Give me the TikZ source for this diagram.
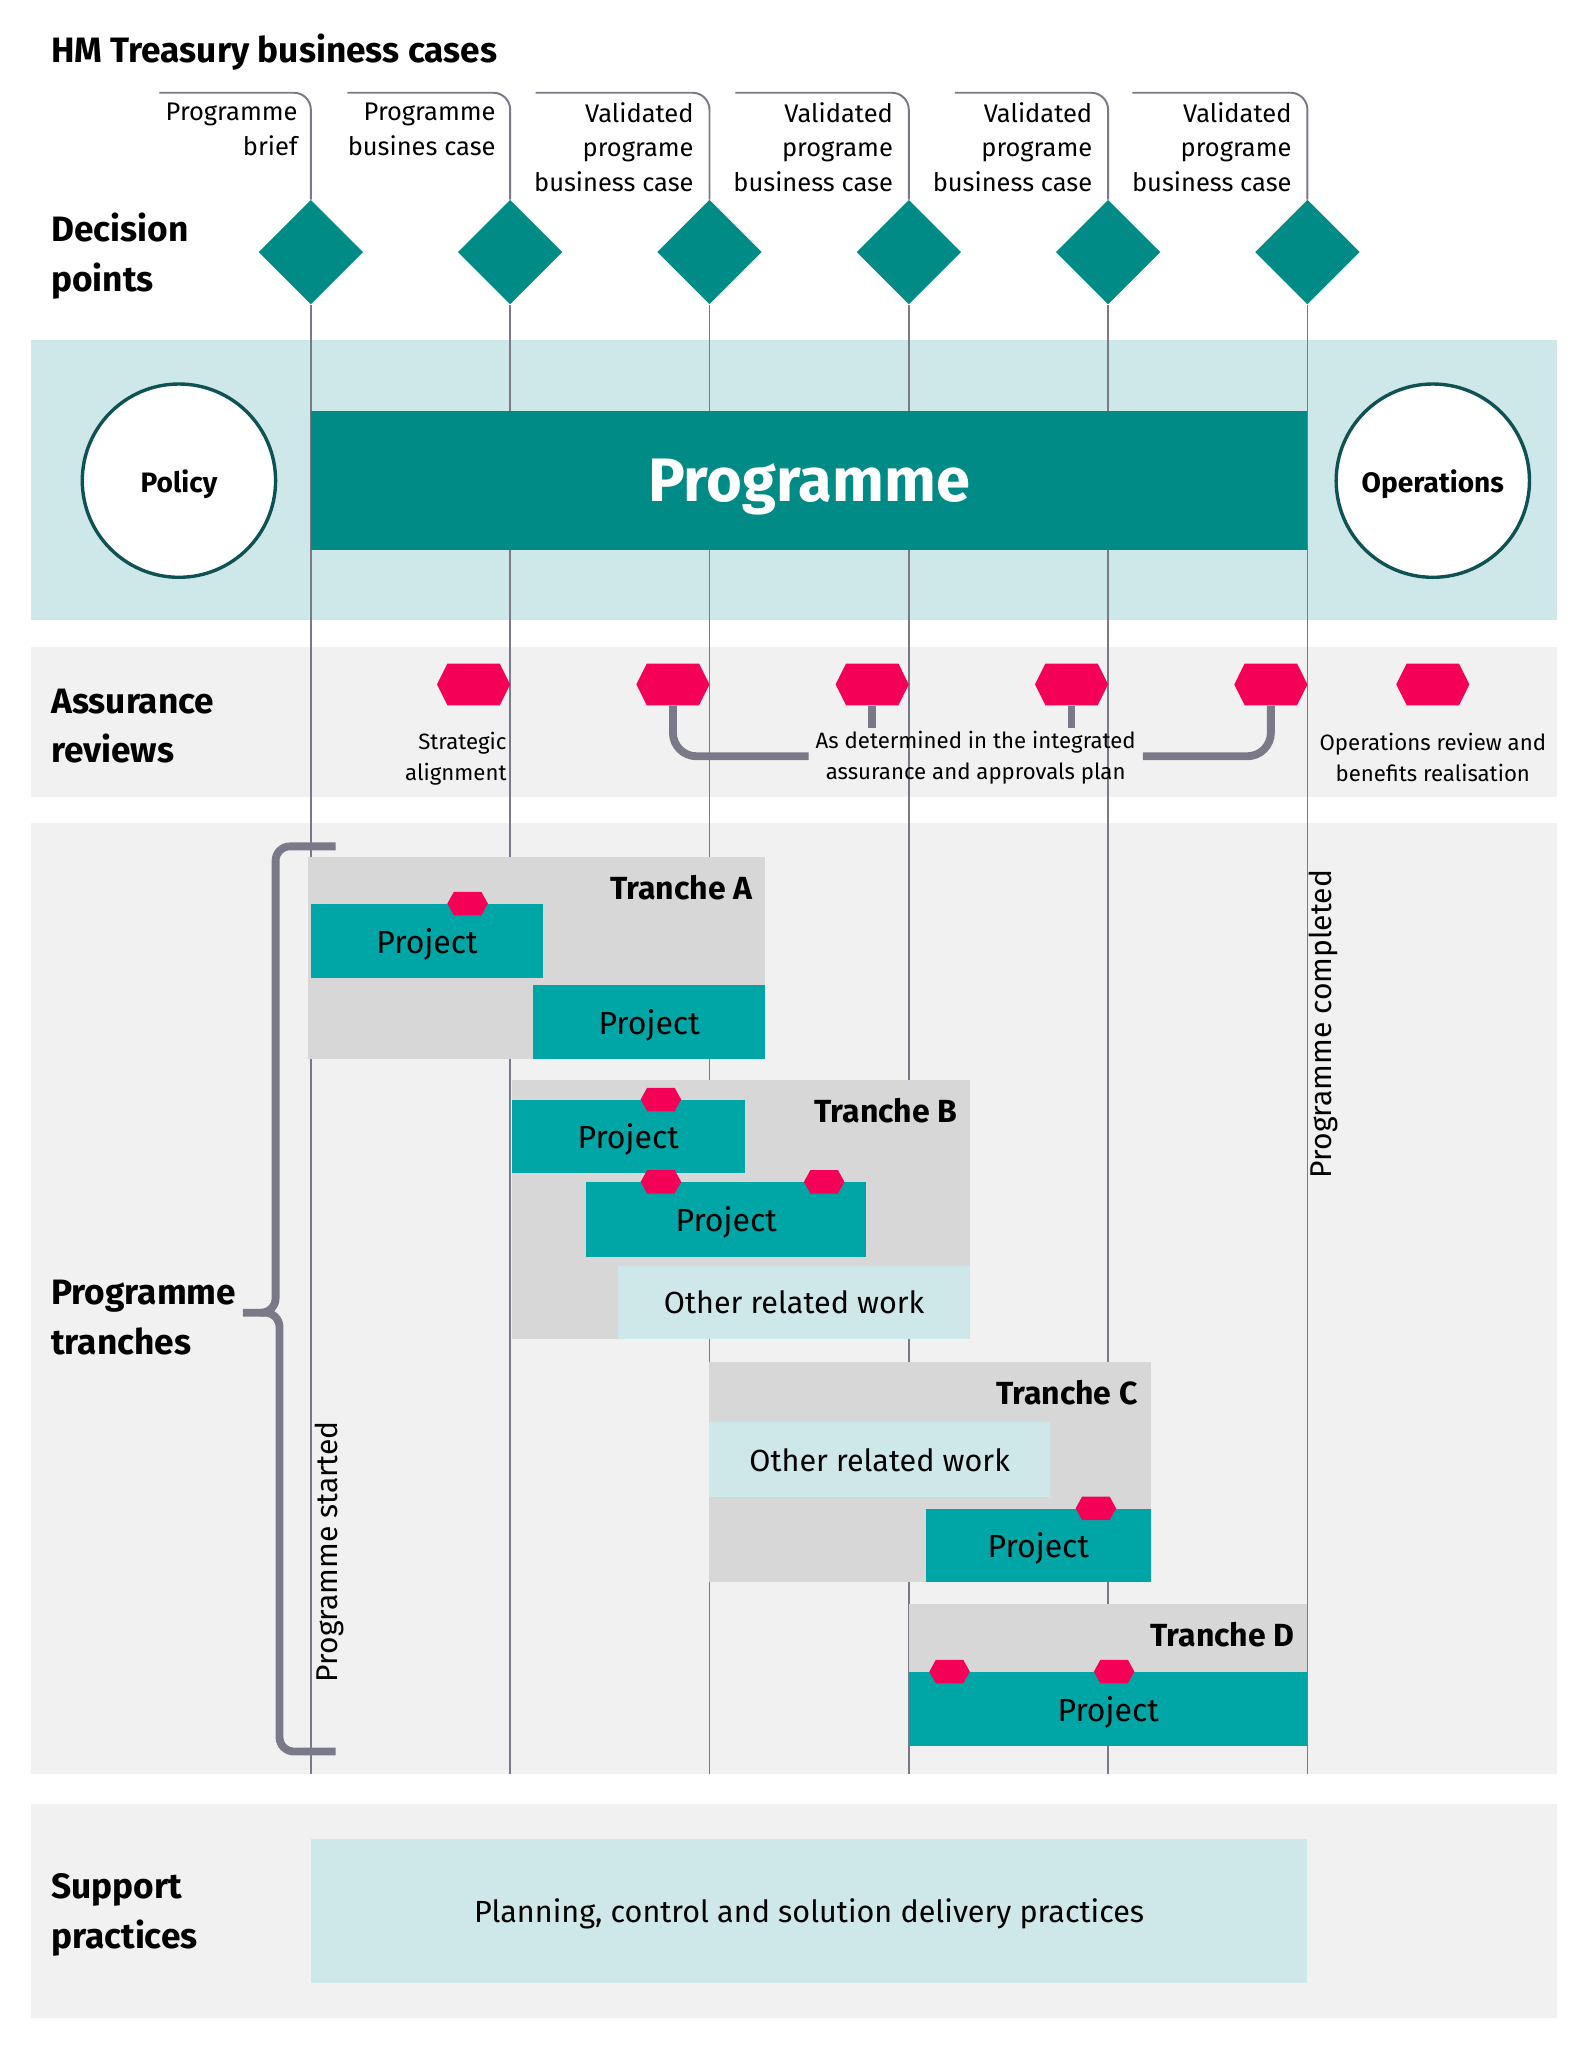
\documentclass[tikz,border=0pt]{standalone}
\usepackage{fontspec}
\setmainfont{Fira Sans}
\usetikzlibrary{shapes.geometric, shapes.symbols}

\definecolor{dteal}{RGB}{0,139,135}
\definecolor{pteal}{RGB}{0,166,166}
\definecolor{lcyan}{RGB}{206,231,232}
\definecolor{bandgray}{RGB}{241,241,241}
\definecolor{trgray}{RGB}{215,215,215}
\definecolor{revpink}{RGB}{245,0,87}
\definecolor{linegray}{RGB}{122,121,135}
\definecolor{ringteal}{RGB}{14,82,84}

\tikzset{
  head/.style={font=\fontsize{27}{38}\selectfont\bfseries, align=left, anchor=west, inner sep=0pt},
  caselbl/.style={font=\fontsize{19.5}{26.5}\selectfont, align=right, anchor=north east, inner sep=0pt},
  bracket/.style={draw=linegray, line width=1.5pt, rounded corners=13pt},
  vline/.style={draw=linegray, line width=1.3pt},
  dpoint/.style={diamond, fill=dteal, minimum size=80pt, inner sep=0pt},
  endring/.style={circle, draw=ringteal, line width=2.6pt, fill=white, minimum size=148pt,
    text depth=0pt, font=\fontsize{21.5}{24}\selectfont\bfseries},
  review/.style={signal, signal to=east and west, signal pointer angle=127, fill=revpink,
    minimum width=56pt, minimum height=32pt, inner sep=0pt},
  minirev/.style={review, signal pointer angle=122, minimum width=31pt, minimum height=18pt},
  revtext/.style={font=\fontsize{17}{24}\selectfont, inner sep=0pt},
  link/.style={draw=linegray, line width=6pt, rounded corners=18pt},
  brace/.style={draw=linegray, line width=6pt, rounded corners=11pt},
  tranche/.style={fill=trgray, inner sep=0pt},
  tname/.style={font=\fontsize{24.5}{28}\selectfont\bfseries, anchor=north east, inner sep=0pt},
  project/.style={fill=pteal, inner sep=0pt, text depth=0pt, font=\fontsize{24.5}{28}\selectfont},
  other/.style={fill=lcyan, inner sep=0pt, text depth=0pt, font=\fontsize{23.4}{28}\selectfont},
  milestone/.style={font=\fontsize{23}{28}\selectfont, rotate=90, inner sep=0pt},
}

\begin{document}
\begin{tikzpicture}[x=1pt, y=-1pt]
  \fill[white] (0,0) rectangle (1219,1568);
  \useasboundingbox (0,0) rectangle (1219,1568);

  % bands
  \fill[lcyan] (24,260) rectangle (1192,475);
  \fill[bandgray] (24,495) rectangle (1192,610);
  \fill[bandgray] (24,630) rectangle (1192,1358);
  \fill[bandgray] (24,1381) rectangle (1192,1545);

  % row headers
  \node[head] (title) at (39,40) {HM Treasury business cases};
  \node[head] (hdec) at (39,196) {Decision\\points};
  \node[head] (hass) at (39,556) {Assurance\\reviews};
  \node[head] (htr) at (39,1009) {Programme\\tranches};
  \node[head] (hsup) at (39,1466) {Support\\practices};

  % decision points
  \node[dpoint] (d1) at (238,193) {};
  \node[dpoint] (d2) at (390.6,193) {};
  \node[dpoint] (d3) at (543.2,193) {};
  \node[dpoint] (d4) at (695.8,193) {};
  \node[dpoint] (d5) at (848.4,193) {};
  \node[dpoint] (d6) at (1001,193) {};

  \coordinate (bottom) at (0,1358);
  \draw[vline] (d1.south) -- (d1.south |- bottom);
  \draw[vline] (d2.south) -- (d2.south |- bottom);
  \draw[vline] (d3.south) -- (d3.south |- bottom);
  \draw[vline] (d4.south) -- (d4.south |- bottom);
  \draw[vline] (d5.south) -- (d5.south |- bottom);
  \draw[vline] (d6.south) -- (d6.south |- bottom);

  % business case labels
  \coordinate (t1) at (122,71);
  \coordinate (t2) at (266,71);
  \coordinate (t3) at (410,71);
  \coordinate (t4) at (563,71);
  \coordinate (t5) at (731,71);
  \coordinate (t6) at (867,71);
  \draw[bracket] (t1) -| (d1.north);
  \draw[bracket] (t2) -| (d2.north);
  \draw[bracket] (t3) -| (d3.north);
  \draw[bracket] (t4) -| (d4.north);
  \draw[bracket] (t5) -| (d5.north);
  \draw[bracket] (t6) -| (d6.north);
  \node[caselbl] (c1) at ([xshift=-10pt,yshift=-8pt]t1 -| d1) {Programme\\brief};
  \node[caselbl] (c2) at ([xshift=-11pt,yshift=-8pt]t2 -| d2) {Programme\\busines case};
  \node[caselbl] (c3) at ([xshift=-12pt,yshift=-7pt]t3 -| d3) {Validated\\programe\\business case};
  \node[caselbl] (c4) at ([xshift=-12pt,yshift=-7pt]t4 -| d4) {Validated\\programe\\business case};
  \node[caselbl] (c5) at ([xshift=-12pt,yshift=-7pt]t5 -| d5) {Validated\\programe\\business case};
  \node[caselbl] (c6) at ([xshift=-12pt,yshift=-7pt]t6 -| d6) {Validated\\programe\\business case};

  % programme band
  \node[endring] (pol) at (137,368) {Policy};
  \node[endring] (ops) at (1097,368) {Operations};
  \node[fill=dteal, text=white, minimum width=763pt, minimum height=106pt, inner sep=0pt,
    text depth=0pt, font=\fontsize{47}{50}\selectfont\bfseries] (prog) at (619.5,368) {Programme};

  % assurance reviews
  \node[review] (h1) at (362.6,524) {};
  \node[review] (h2) at (515.2,524) {};
  \node[review] (h3) at (667.8,524) {};
  \node[review] (h4) at (820.4,524) {};
  \node[review] (h5) at (973,524) {};
  \node[review] (h6) at (1097,524) {};
  \coordinate (j1) at (619,579);
  \coordinate (j2) at (875,579);
  \coordinate (stubend) at (0,557);
  \draw[link] (h2.south) |- (j1);
  \draw[link] (h5.south) |- (j2);
  \draw[link] (h3.south) -- (h3.south |- stubend);
  \draw[link] (h4.south) -- (h4.south |- stubend);
  \node[revtext, align=right, anchor=north east] (r1) at (388,560) {Strategic\\alignment};
  \node[revtext, align=center] (r2) at (747,580) {As determined in the integrated\\assurance and approvals plan};
  \node[revtext, align=center] (r3) at (1097,580) {Operations review and\\benefits realisation};

  % programme tranches
  \coordinate (brtop) at (257,648);
  \coordinate (brmid) at (186,1005);
  \coordinate (brbot) at (257,1341);
  \draw[brace] (brtop) -| (211,1005) -- (brmid);
  \draw[brace] (brbot) -| (214,1005) -- (200,1005);
  \node[milestone] (pstart) at (252,1188) {Programme started};
  \node[milestone] (pdone) at (1013,784) {Programme completed};

  \node[tranche, minimum width=350pt, minimum height=155pt] (trA) at (411,733.5) {};
  \node[tname] at ([xshift=-10pt,yshift=-14pt]trA.north east) {Tranche A};
  \node[project, minimum width=178pt, minimum height=57pt] (pA1) at (327,720.5) {Project};
  \node[project, minimum width=178pt, minimum height=57pt] (pA2) at (497,782.5) {Project};
  \node[minirev] (mA1) at ([xshift=31pt]pA1.north) {};

  \node[tranche, minimum width=351pt, minimum height=198pt] (trB) at (567.5,926) {};
  \node[tname] at ([xshift=-10pt,yshift=-14pt]trB.north east) {Tranche B};
  \node[project, minimum width=178pt, minimum height=56pt] (pB1) at (481,870) {Project};
  \node[project, minimum width=214pt, minimum height=57pt] (pB2) at (556,933.5) {Project};
  \node[other, minimum width=270pt, minimum height=56pt] (oB) at (608,997) {Other related work};
  \node[minirev] (mB1) at ([xshift=25pt]pB1.north) {};
  \node[minirev] (mB2) at ([xshift=-50pt]pB2.north) {};
  \node[minirev] (mB3) at ([xshift=75pt]pB2.north) {};

  \node[tranche, minimum width=338pt, minimum height=168pt] (trC) at (712,1127) {};
  \node[tname] at ([xshift=-10pt,yshift=-14pt]trC.north east) {Tranche C};
  \node[other, minimum width=261pt, minimum height=57pt] (oC) at (673.5,1117.5) {Other related work};
  \node[project, minimum width=172pt, minimum height=56pt] (pC) at (795,1183) {Project};
  \node[minirev] (mC) at ([xshift=44pt]pC.north) {};

  \node[tranche, minimum width=305pt, minimum height=109pt] (trD) at (848.5,1282.5) {};
  \node[tname] at ([xshift=-10pt,yshift=-14pt]trD.north east) {Tranche D};
  \node[project, minimum width=305pt, minimum height=57pt] (pD) at (848.5,1308.5) {Project};
  \node[minirev] (mD1) at ([xshift=-121.5pt]pD.north) {};
  \node[minirev] (mD2) at ([xshift=4.5pt]pD.north) {};

  % support practices
  \node[other, minimum width=763pt, minimum height=110pt] (sup) at (619.5,1463) {Planning, control and solution delivery practices};
\end{tikzpicture}
\end{document}
